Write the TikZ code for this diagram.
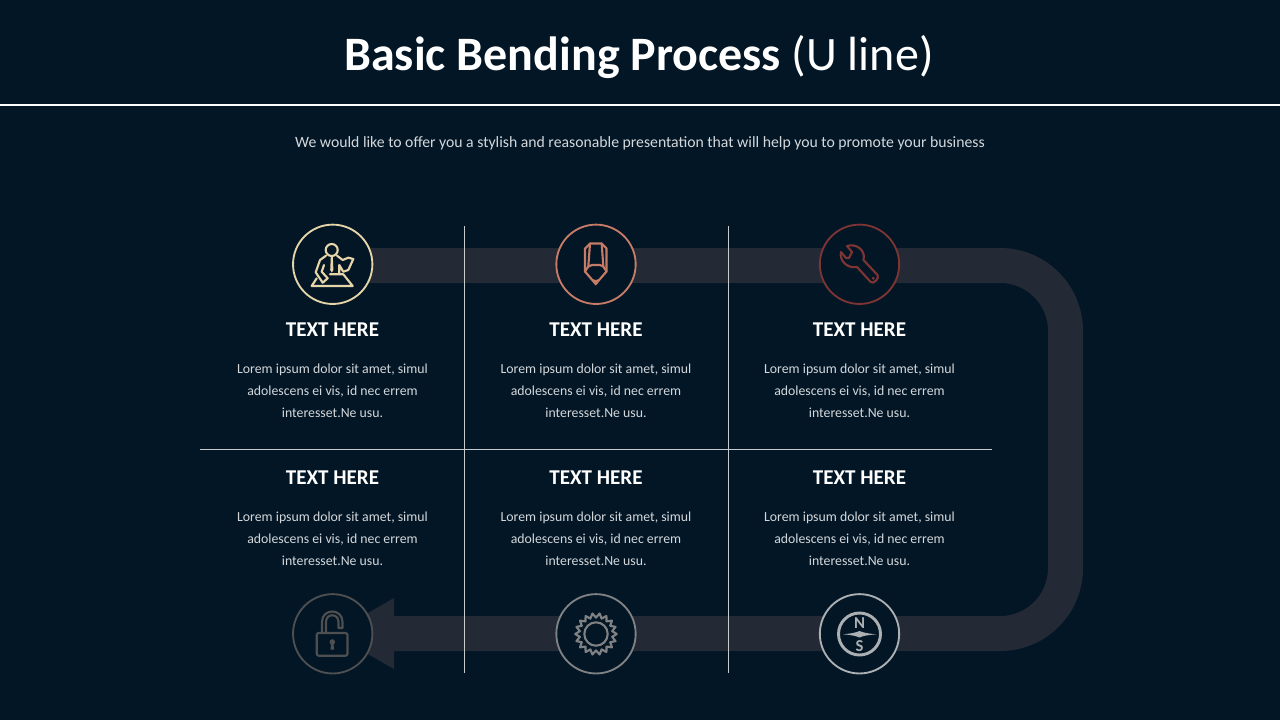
\documentclass[tikz,border=0pt]{standalone}
\usepackage{fontspec}
\setmainfont{Carlito}
\definecolor{pagebg}{HTML}{021626}
\definecolor{bandgrey}{HTML}{232A35}
\definecolor{gridline}{HTML}{C8CACC}
\definecolor{bodygrey}{HTML}{D5D8DB}
\definecolor{creamline}{HTML}{E6D5A8}
\definecolor{salmonline}{HTML}{C67B66}
\definecolor{rustline}{HTML}{7E3433}
\definecolor{lockline}{HTML}{4D4F50}
\definecolor{sunline}{HTML}{7F8183}
\definecolor{compassline}{HTML}{ACB0B3}
\tikzset{
  ring/.style={circle,draw=#1,fill=pagebg,line width=1.4pt,minimum size=59.5pt,inner sep=0pt},
  icon/.style={draw=#1,line width=1.6pt,line join=round,line cap=round},
  heading/.style={text=white,font={\fontsize{15.8pt}{18pt}\bfseries\selectfont}},
  blurb/.style={text=bodygrey,align=center,font={\fontsize{10.35pt}{16.5pt}\selectfont}},
  grid/.style={draw=gridline,line width=0.6pt}}

\begin{document}
\begin{tikzpicture}[x=0.75pt,y=-0.75pt]
\useasboundingbox (0,0) rectangle (1280,720);
\fill [pagebg] (0,0) rectangle (1280,720);
% header
\node (title) [text=white,font={\fontsize{36pt}{40pt}\selectfont}] at (639,57) {{\bfseries Basic Bending Process} (U line)};
\draw [white,line width=1.5pt] (0,105.5) -- (1280,105.5);
\node (subtitle) [text=bodygrey,font={\fontsize{11.8pt}{14pt}\selectfont}] at (640,143) {We would like to offer you a stylish and reasonable presentation that will help you to promote your business};
% u shaped band
\draw [bandgrey,line width=26.25pt,rounded corners=49pt] (332,265.5) -- (1065.5,265.5) -- (1065.5,633.5) -- (390,633.5);
\fill [bandgrey] (394,598) -- (394,669) -- (332,633.5) -- cycle;
% grid
\draw [grid] (464.5,226) -- (464.5,673);
\draw [grid] (728.5,226) -- (728.5,673);
\draw [grid] (200,449.5) -- (992,449.5);
% rings
\node (ringa) [ring=creamline] at (332.7,264.3) {};
\node (ringb) [ring=salmonline] at (596,264.3) {};
\node (ringc) [ring=rustline] at (859.5,264.3) {};
\node (ringd) [ring=lockline] at (332.7,633.8) {};
\node (ringe) [ring=sunline] at (596,633.8) {};
\node (ringf) [ring=compassline] at (859.5,633.8) {};
% text cells
\foreach \cell/\xc/\yc in {a/332.5/329.5,b/596/329.5,c/859.5/329.5,d/332.5/478,e/596/478,f/859.5/478}{
  \node (head\cell) [heading] at (\xc,\yc) {TEXT HERE};
  \node (text\cell) [blurb] at (\xc,\yc+61) {Lorem ipsum dolor sit amet, simul\\adolescens ei vis, id nec errem\\interesset.Ne usu.};
}
% person
\draw [icon=creamline] (331.7,250) circle (6);
\draw [icon=creamline] (311.7,286) -- (352.7,286) -- (343.3,274.3) -- (330,274.3);
\draw [icon=creamline] (311.7,286) -- (316.7,278.3);
\draw [icon=creamline] (326,255.7) -- (320,260) -- (315.7,272.3) -- (322.7,282.7) -- (327.7,278.3) -- (321.7,271.7) -- (324,265);
\draw [icon=creamline] (337,255.7) -- (342.7,260) -- (348.3,257.7) -- (353.3,259) -- (348.3,270) -- (343.3,271.7) -- (339.3,265) -- (339.3,274);
\fill [creamline] (330.8,257) -- (332.8,257) -- (333.4,270) -- (331.8,272.5) -- (330.2,270) -- cycle;
% pencil
\draw [icon=salmonline] (590,243.5) -- (601.7,243.5) -- (606.5,248.5) -- (606.5,271.5) -- (595.7,284) -- (585,271.5) -- (585,248.5) -- cycle;
\draw [icon=salmonline] (590,243.5) -- (588.3,266.5) -- (585,271.5);
\draw [icon=salmonline] (601.7,243.5) -- (603.3,266.5) -- (606.5,271.5);
\draw [icon=salmonline] (588.3,266.5) -- (592,265) -- (600,265) -- (603.3,266.5);
\fill [salmonline] (590.5,278.5) -- (595.7,285.5) -- (601,278.5) -- (595.7,280) -- cycle;
% wrench
\draw [icon=rustline] (841,252) .. controls (839,259) and (846,269) .. (857,267) -- (870.7,282) .. controls (873,285) and (880,278) .. (877.5,275) -- (863.5,260) .. controls (866,250) and (856,243) .. (847,246) -- (852,252) -- (849,258) -- (846,258) -- cycle;
\fill [rustline] (873.2,278.3) circle (1.6);
% lock
\draw [icon=lockline,rounded corners=1.5pt] (316.7,633) rectangle (347.5,655.7);
\draw [icon=lockline] (322,633) -- (322,622) .. controls (322,608) and (342.5,608) .. (342.5,622) -- (342.5,628) -- (338.5,628) -- (338.5,622) .. controls (338.5,613) and (326,613) .. (326,622) -- (326,633);
\fill [lockline] (332.3,642) circle (2.8);
\fill [lockline] (331.3,643) -- (333.3,643) -- (334.2,649.5) -- (330.4,649.5) -- cycle;
% sun
\draw [icon=sunline] (596,634) circle (11.7);
\draw [icon=sunline] plot[domain=0:360,samples=37] ({596+(18.6+2.2*cos(18*\x))*cos(\x)},{634+(18.6+2.2*cos(18*\x))*sin(\x)});
% compass
\draw [compassline,line width=2.2pt] (859.5,634) circle (21);
\fill [compassline] (843,634.3) .. controls (852,633.5) and (856,632.5) .. (859.5,631) .. controls (863,632.5) and (867,633.5) .. (876.5,634.3) .. controls (867,635) and (863,636) .. (859.5,637.5) .. controls (856,636) and (852,635) .. (843,634.3) -- cycle;
\node (north) [text=compassline,font={\fontsize{12.5pt}{13pt}\bfseries\selectfont},inner sep=0pt] at (859.5,622.7) {N};
\node (south) [text=compassline,font={\fontsize{12.5pt}{13pt}\bfseries\selectfont},inner sep=0pt] at (859.5,645.7) {S};
\end{tikzpicture}
\end{document}
